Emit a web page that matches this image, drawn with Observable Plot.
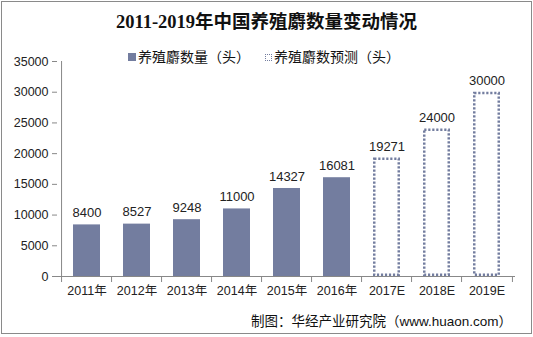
<!DOCTYPE html>
<html>
<head>
<meta charset="utf-8">
<script src="https://cdn.jsdelivr.net/npm/d3@7"></script>
<script src="https://cdn.jsdelivr.net/npm/@observablehq/plot@0.6"></script>
<style>
  html, body { margin: 0; padding: 0; background: #fff; }
  #wrap { position: relative; width: 533px; height: 337px; overflow: hidden; font-family: "Liberation Sans", "Noto Sans CJK SC", sans-serif; color: #222; }
  #frame { position: absolute; left: 1px; top: 1px; width: 529px; height: 331px; border: 1px solid #8a8a8a; pointer-events: none; }
  #title { position: absolute; left: 0; width: 533px; top: 10px; text-align: center; font-family: "Liberation Serif", "Noto Sans CJK SC", serif; font-weight: bold; font-size: 18.5px; line-height: 24px; color: #111; }
  .leg { position: absolute; top: 48px; font-size: 14px; line-height: 18px; color: #111; white-space: nowrap; }
  .sw { display: inline-block; width: 8px; height: 8px; margin-right: 2px; vertical-align: 1px; }
  #caption { position: absolute; right: 21px; top: 313px; font-size: 13.5px; line-height: 17px; color: #111; white-space: nowrap; }
  #chart { position: absolute; left: 0; top: 0; }
</style>
</head>
<body>
<div id="wrap">
  <div id="chart"></div>
  <div id="title"></div>
  <div id="leg1" class="leg"></div>
  <div id="leg2" class="leg"></div>
  <div id="caption"></div>
  <div id="frame"></div>
</div>
<script>
const titleText = "2011-2019年中国养殖麝数量变动情况";
const legendActual = "养殖麝数量（头）";
const legendForecast = "养殖麝数预测（头）";
const captionText = "制图：华经产业研究院（www.huaon.com）";

const years = ["2011年","2012年","2013年","2014年","2015年","2016年","2017E","2018E","2019E"];
const actualYears = ["2011年","2012年","2013年","2014年","2015年","2016年"];
const actualValues = [8400, 8527, 9248, 11000, 14327, 16081];
const forecastYears = ["2017E","2018E","2019E"];
const forecastValues = [19271, 24000, 30000];
const yTicks = [0, 5000, 10000, 15000, 20000, 25000, 30000, 35000];

const barColor = "#737d9f";
const textColor = "#222";
const axisColor = "#888";

const actual = actualYears.map((c, i) => ({cat: c, value: actualValues[i]}));
const forecast = forecastYears.map((c, i) => ({cat: c, value: forecastValues[i]}));

const W = 533, H = 337;
const mL = 57, mR = 18, mT = 61, mB = 61;
const step = (W - mL - mR) / years.length;

const chart = Plot.plot({
  width: W,
  height: H,
  marginLeft: mL,
  marginRight: mR,
  marginTop: mT,
  marginBottom: mB,
  style: { fontFamily: "'Liberation Sans', 'Noto Sans CJK SC', sans-serif", fontSize: "12px", color: textColor, background: "transparent" },
  x: { type: "band", domain: years, paddingInner: 0.46, paddingOuter: 0.23, label: null },
  y: { domain: [0, 35000], label: null },
  marks: [
    Plot.barY(actual, { x: "cat", y: "value", fill: barColor }),
    Plot.barY(forecast, { x: "cat", y: "value", fill: "none", stroke: barColor, strokeWidth: 2.5, strokeDasharray: "2.2,1.8", inset: 1.25 }),
    Plot.text(actual, { x: "cat", y: "value", text: d => String(d.value), dy: -12, fontSize: 13, fill: textColor }),
    Plot.text(forecast, { x: "cat", y: "value", text: d => String(d.value), dy: -11, fontSize: 13, fill: textColor }),
    Plot.axisY({ ticks: yTicks, tickFormat: d => String(d), tickSize: 5, tickPadding: 4, stroke: axisColor, fontSize: 12.5, color: textColor }),
    Plot.ruleX(years.slice(0, 1), { x: d => d, dx: -step / 2, stroke: axisColor }),
    Plot.ruleY([0], { stroke: axisColor }),
    Plot.axisX({ tickSize: 6, dx: -step / 2, tickFormat: () => "", stroke: axisColor }),
    Plot.axisX({ ticks: years.slice(-1), tickSize: 6, dx: step / 2, tickFormat: () => "", stroke: axisColor }),
    Plot.axisX({ tickSize: 0, tickPadding: 10, fontSize: 12.5, color: textColor })
  ]
});
document.getElementById("chart").appendChild(chart);

document.getElementById("title").textContent = titleText;
const l1 = document.getElementById("leg1");
l1.style.left = "128px";
l1.innerHTML = `<span class="sw" style="background:${barColor}"></span>` + legendActual;
const l2 = document.getElementById("leg2");
l2.style.left = "265px";
l2.innerHTML = `<span class="sw" style="border:1.5px dotted ${barColor};width:5px;height:5px;box-sizing:content-box"></span>` + legendForecast;
document.getElementById("caption").textContent = captionText;
</script>
</body>
</html>
